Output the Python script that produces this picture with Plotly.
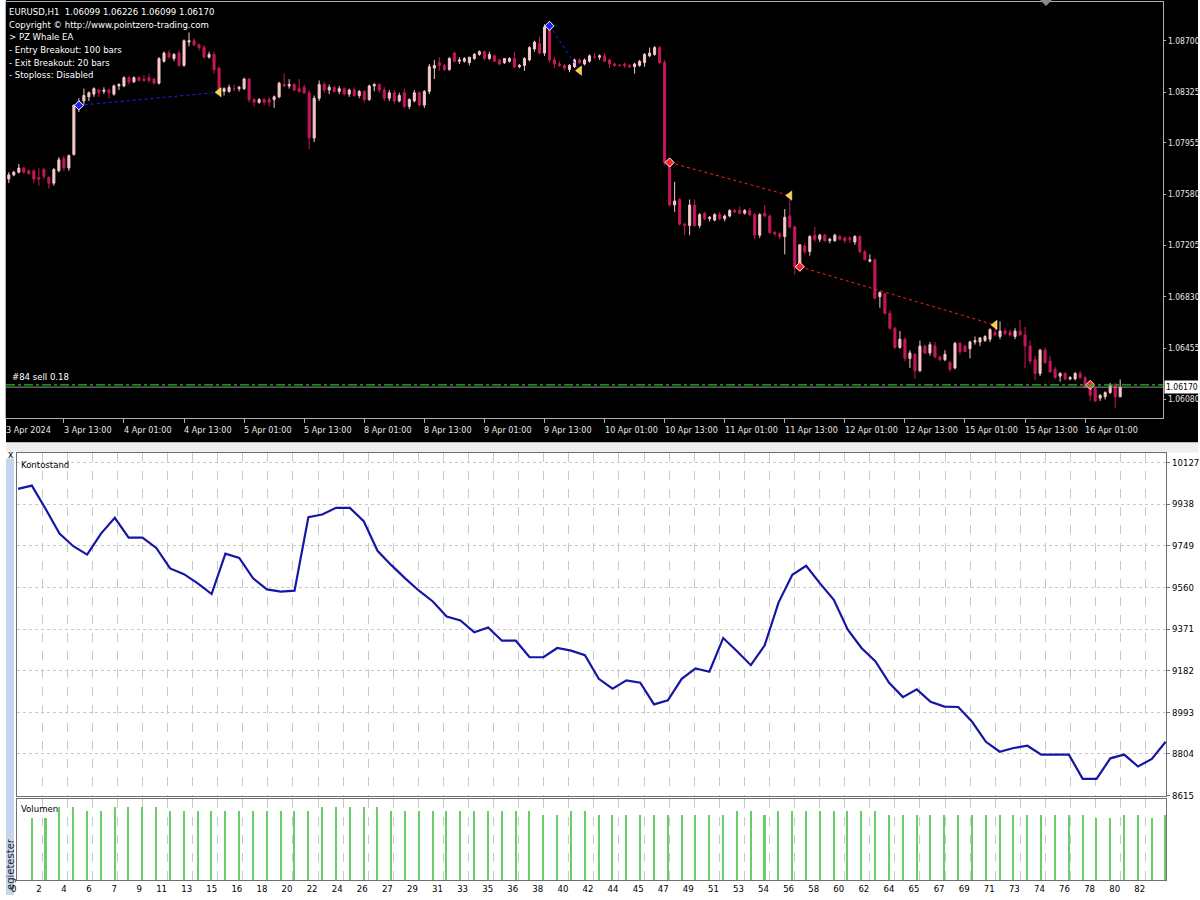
import plotly.graph_objects as go

W, H = 1200, 900
FONT = "DejaVu Sans Condensed, Liberation Sans Narrow, Arial Narrow, sans-serif"

# ---------------- Price data: EURUSD H1, bars 1..223 ----------------
bar_first = 1
opens = [
    1.0769, 1.0772, 1.0774, 1.0777, 1.0775, 1.0775, 1.0770, 1.0776, 1.0770, 1.0766,
    1.0775, 1.0784, 1.0777, 1.0787, 1.0821, 1.0826, 1.0829, 1.0831, 1.0834, 1.0833,
    1.0834, 1.0831, 1.0837, 1.0837, 1.0843, 1.0840, 1.0843, 1.0842, 1.0843, 1.0842,
    1.0839, 1.0855, 1.0861, 1.0857, 1.0861, 1.0852, 1.0869, 1.0870, 1.0867, 1.0865,
    1.0858, 1.0860, 1.0850, 1.0833, 1.0833, 1.0835, 1.0835, 1.0835, 1.0842, 1.0827,
    1.0825, 1.0827, 1.0827, 1.0827, 1.0829, 1.0838, 1.0837, 1.0838, 1.0835, 1.0836,
    1.0832, 1.0799, 1.0828, 1.0838, 1.0834, 1.0836, 1.0833, 1.0835, 1.0831, 1.0834,
    1.0830, 1.0833, 1.0827, 1.0837, 1.0838, 1.0834, 1.0828, 1.0832, 1.0826, 1.0832,
    1.0822, 1.0826, 1.0832, 1.0823, 1.0833, 1.0850, 1.0854, 1.0852, 1.0849, 1.0861,
    1.0855, 1.0855, 1.0854, 1.0857, 1.0860, 1.0862, 1.0857, 1.0859, 1.0856, 1.0854,
    1.0855, 1.0857, 1.0851, 1.0852, 1.0856, 1.0864, 1.0868, 1.0861, 1.0879, 1.0856,
    1.0853, 1.0852, 1.0849, 1.0851, 1.0856, 1.0853, 1.0855, 1.0858, 1.0858, 1.0859,
    1.0856, 1.0853, 1.0852, 1.0853, 1.0852, 1.0851, 1.0852, 1.0854, 1.0859, 1.0860,
    1.0865, 1.0854, 1.0780, 1.0750, 1.0754, 1.0736, 1.0735, 1.0750, 1.0735, 1.0744,
    1.0740, 1.0739, 1.0743, 1.0740, 1.0742, 1.0746, 1.0746, 1.0744, 1.0746, 1.0743,
    1.0728, 1.0744, 1.0742, 1.0730, 1.0729, 1.0727, 1.0742, 1.0734, 1.0705, 1.0720,
    1.0716, 1.0728, 1.0725, 1.0728, 1.0724, 1.0724, 1.0727, 1.0726, 1.0726, 1.0723,
    1.0727, 1.0716, 1.0709, 1.0710, 1.0683, 1.0685, 1.0671, 1.0660, 1.0646, 1.0652,
    1.0638, 1.0641, 1.0629, 1.0647, 1.0642, 1.0647, 1.0639, 1.0637, 1.0635, 1.0631,
    1.0649, 1.0647, 1.0645, 1.0650, 1.0650, 1.0651, 1.0652, 1.0657, 1.0654, 1.0658,
    1.0657, 1.0654, 1.0658, 1.0655, 1.0647, 1.0637, 1.0627, 1.0644, 1.0636, 1.0630,
    1.0625, 1.0627, 1.0623, 1.0623, 1.0627, 1.0624, 1.0618, 1.0616, 1.0609, 1.0610,
    1.0613, 1.0619, 1.06099,
]
highs = [
    1.0774, 1.0775, 1.0780, 1.0778, 1.0776, 1.0776, 1.0777, 1.0777, 1.0771, 1.0777,
    1.0785, 1.0786, 1.0787, 1.0823, 1.0828, 1.0835, 1.0833, 1.0836, 1.0835, 1.0836,
    1.0835, 1.0838, 1.0839, 1.0844, 1.0844, 1.0844, 1.0844, 1.0845, 1.0846, 1.0843,
    1.0858, 1.0862, 1.0863, 1.0861, 1.0863, 1.0871, 1.0876, 1.0872, 1.0868, 1.0867,
    1.0862, 1.0862, 1.0851, 1.0836, 1.0838, 1.0838, 1.0837, 1.0843, 1.0843, 1.0828,
    1.0828, 1.0828, 1.0829, 1.0830, 1.0840, 1.0846, 1.0842, 1.0839, 1.0842, 1.0838,
    1.0834, 1.0830, 1.0841, 1.0840, 1.0838, 1.0837, 1.0837, 1.0836, 1.0835, 1.0836,
    1.0834, 1.0834, 1.0838, 1.0839, 1.0839, 1.0836, 1.0834, 1.0834, 1.0832, 1.0835,
    1.0828, 1.0834, 1.0833, 1.0834, 1.0853, 1.0856, 1.0858, 1.0853, 1.0858, 1.0862,
    1.0858, 1.0858, 1.0858, 1.0861, 1.0863, 1.0863, 1.0862, 1.0860, 1.0857, 1.0857,
    1.0858, 1.0862, 1.0853, 1.0858, 1.0866, 1.0870, 1.0873, 1.0882, 1.0884, 1.0858,
    1.0855, 1.0853, 1.0853, 1.0857, 1.0857, 1.0857, 1.0860, 1.0861, 1.0860, 1.0861,
    1.0857, 1.0854, 1.0853, 1.0854, 1.0853, 1.0854, 1.0856, 1.0861, 1.0865, 1.0866,
    1.0866, 1.0856, 1.0781, 1.0767, 1.0755, 1.0737, 1.0754, 1.0754, 1.0744, 1.0745,
    1.0742, 1.0744, 1.0745, 1.0743, 1.0747, 1.0747, 1.0749, 1.0747, 1.0748, 1.0744,
    1.0744, 1.0750, 1.0743, 1.0731, 1.0730, 1.0747, 1.0754, 1.0735, 1.0721, 1.0722,
    1.0728, 1.0734, 1.0729, 1.0729, 1.0726, 1.0729, 1.0728, 1.0727, 1.0727, 1.0728,
    1.0728, 1.0717, 1.0714, 1.0711, 1.0687, 1.0686, 1.0673, 1.0661, 1.0658, 1.0653,
    1.0644, 1.0642, 1.0651, 1.0648, 1.0650, 1.0650, 1.0640, 1.0644, 1.0636, 1.0650,
    1.0650, 1.0648, 1.0651, 1.0654, 1.0653, 1.0655, 1.0660, 1.0660, 1.0665, 1.0660,
    1.0659, 1.0660, 1.0666, 1.0661, 1.0651, 1.0640, 1.0645, 1.0646, 1.0640, 1.0632,
    1.0628, 1.0628, 1.0625, 1.0628, 1.0629, 1.0625, 1.0618, 1.0617, 1.0612, 1.0614,
    1.0620, 1.0620, 1.06226,
]
lows = [
    1.0766, 1.0771, 1.0773, 1.0773, 1.0772, 1.0766, 1.0764, 1.0769, 1.0762, 1.0764,
    1.0774, 1.0775, 1.0775, 1.0786, 1.0818, 1.0823, 1.0826, 1.0829, 1.0829, 1.0831,
    1.0828, 1.0830, 1.0834, 1.0836, 1.0838, 1.0839, 1.0840, 1.0840, 1.0839, 1.0838,
    1.0838, 1.0854, 1.0857, 1.0855, 1.0851, 1.0851, 1.0866, 1.0866, 1.0863, 1.0857,
    1.0857, 1.0846, 1.0831, 1.0830, 1.0832, 1.0833, 1.0833, 1.0834, 1.0825, 1.0822,
    1.0824, 1.0823, 1.0822, 1.0821, 1.0828, 1.0836, 1.0835, 1.0833, 1.0832, 1.0831,
    1.0791, 1.0796, 1.0826, 1.0832, 1.0831, 1.0832, 1.0831, 1.0830, 1.0829, 1.0829,
    1.0828, 1.0825, 1.0826, 1.0833, 1.0832, 1.0826, 1.0826, 1.0824, 1.0825, 1.0821,
    1.0820, 1.0825, 1.0822, 1.0821, 1.0831, 1.0842, 1.0848, 1.0848, 1.0848, 1.0854,
    1.0853, 1.0854, 1.0852, 1.0856, 1.0859, 1.0856, 1.0856, 1.0855, 1.0852, 1.0853,
    1.0854, 1.0850, 1.0850, 1.0848, 1.0855, 1.0862, 1.0860, 1.0859, 1.0854, 1.0850,
    1.0851, 1.0848, 1.0847, 1.0850, 1.0853, 1.0852, 1.0854, 1.0857, 1.0856, 1.0855,
    1.0850, 1.0851, 1.0851, 1.0850, 1.0850, 1.0846, 1.0851, 1.0851, 1.0858, 1.0859,
    1.0853, 1.0779, 1.0749, 1.0745, 1.0735, 1.0728, 1.0728, 1.0734, 1.0733, 1.0739,
    1.0738, 1.0738, 1.0739, 1.0738, 1.0741, 1.0744, 1.0743, 1.0743, 1.0742, 1.0725,
    1.0726, 1.0741, 1.0729, 1.0727, 1.0725, 1.0714, 1.0733, 1.0699, 1.0703, 1.0714,
    1.0713, 1.0723, 1.0723, 1.0723, 1.0722, 1.0723, 1.0724, 1.0722, 1.0722, 1.0721,
    1.0715, 1.0710, 1.0708, 1.0681, 1.0675, 1.0670, 1.0659, 1.0645, 1.0645, 1.0636,
    1.0631, 1.0623, 1.0628, 1.0641, 1.0640, 1.0638, 1.0636, 1.0636, 1.0628, 1.0630,
    1.0641, 1.0643, 1.0638, 1.0648, 1.0647, 1.0650, 1.0650, 1.0654, 1.0652, 1.0655,
    1.0654, 1.0652, 1.0655, 1.0631, 1.0634, 1.0622, 1.0625, 1.0634, 1.0628, 1.0623,
    1.0621, 1.0622, 1.0622, 1.0622, 1.0623, 1.0616, 1.0607, 1.0606, 1.0607, 1.0608,
    1.0612, 1.0602, 1.06099,
]
closes = [
    1.0772, 1.0774, 1.0777, 1.0774, 1.0773, 1.0769, 1.0769, 1.0771, 1.0766, 1.0776,
    1.0783, 1.0777, 1.0786, 1.0823, 1.0825, 1.0830, 1.0832, 1.0835, 1.0832, 1.0834,
    1.0832, 1.0837, 1.0838, 1.0843, 1.0840, 1.0843, 1.0841, 1.0841, 1.0841, 1.0839,
    1.0857, 1.0861, 1.0858, 1.0860, 1.0852, 1.0870, 1.0870, 1.0867, 1.0865, 1.0858,
    1.0860, 1.0849, 1.0833, 1.0835, 1.0836, 1.0835, 1.0836, 1.0842, 1.0827, 1.0825,
    1.0827, 1.0825, 1.0825, 1.0829, 1.0839, 1.0837, 1.0838, 1.0834, 1.0833, 1.0832,
    1.0799, 1.0828, 1.0838, 1.0834, 1.0836, 1.0833, 1.0835, 1.0831, 1.0834, 1.0830,
    1.0833, 1.0827, 1.0837, 1.0838, 1.0834, 1.0828, 1.0832, 1.0826, 1.0830, 1.0822,
    1.0827, 1.0832, 1.0823, 1.0833, 1.0851, 1.0852, 1.0852, 1.0849, 1.0857, 1.0855,
    1.0856, 1.0857, 1.0858, 1.0860, 1.0862, 1.0857, 1.0860, 1.0855, 1.0853, 1.0857,
    1.0857, 1.0851, 1.0852, 1.0857, 1.0865, 1.0869, 1.0861, 1.0880, 1.0856, 1.0853,
    1.0852, 1.0850, 1.0852, 1.0856, 1.0854, 1.0856, 1.0859, 1.0858, 1.0859, 1.0855,
    1.0853, 1.0852, 1.0852, 1.0852, 1.0851, 1.0853, 1.0855, 1.0860, 1.0861, 1.0865,
    1.0854, 1.0781, 1.0750, 1.0753, 1.0736, 1.0735, 1.0750, 1.0735, 1.0743, 1.0740,
    1.0741, 1.0743, 1.0740, 1.0742, 1.0746, 1.0745, 1.0744, 1.0746, 1.0743, 1.0728,
    1.0743, 1.0742, 1.0730, 1.0729, 1.0727, 1.0741, 1.0734, 1.0705, 1.0721, 1.0716,
    1.0727, 1.0725, 1.0728, 1.0724, 1.0725, 1.0728, 1.0725, 1.0724, 1.0725, 1.0727,
    1.0716, 1.0710, 1.0710, 1.0682, 1.0686, 1.0671, 1.0660, 1.0646, 1.0652, 1.0638,
    1.0642, 1.0629, 1.0647, 1.0642, 1.0648, 1.0639, 1.0637, 1.0641, 1.0630, 1.0649,
    1.0643, 1.0643, 1.0650, 1.0651, 1.0653, 1.0654, 1.0659, 1.0655, 1.0658, 1.0656,
    1.0655, 1.0658, 1.0655, 1.0647, 1.0636, 1.0627, 1.0644, 1.0635, 1.0628, 1.0624,
    1.0627, 1.0623, 1.0624, 1.0627, 1.0624, 1.0617, 1.0611, 1.0607, 1.0611, 1.0613,
    1.0618, 1.0610, 1.06170,
]

time_labels = [
    "3 Apr 2024", "3 Apr 13:00", "4 Apr 01:00", "4 Apr 13:00", "5 Apr 01:00",
    "5 Apr 13:00", "8 Apr 01:00", "8 Apr 13:00", "9 Apr 01:00", "9 Apr 13:00",
    "10 Apr 01:00", "10 Apr 13:00", "11 Apr 01:00", "11 Apr 13:00", "12 Apr 01:00",
    "12 Apr 13:00", "15 Apr 01:00", "15 Apr 13:00", "16 Apr 01:00",
]
bars_per_label = 12

price_ticks = [1.08700, 1.08325, 1.07955, 1.07580, 1.07205, 1.06830, 1.06455, 1.06080]
price_range = [1.05947, 1.08983]
last_price = 1.06170

# trades (entry / exit bar index and price)
trade_side = ["buy", "buy", "sell", "sell", "sell"]
entry_bar = [15, 109, 133, 159, 217]
entry_price = [1.08228, 1.08809, 1.07811, 1.07049, 1.06186]
exit_bar = [43, 115, 157, 198]
exit_price = [1.08324, 1.08482, 1.07569, 1.06624]
open_order_text = "#84 sell 0.18"

header_lines = [
    "EURUSD,H1  1.06099 1.06226 1.06099 1.06170",
    "Copyright © http://www.pointzero-trading.com",
    "> PZ Whale EA",
    "- Entry Breakout: 100 bars",
    "- Exit Breakout: 20 bars",
    "- Stoploss: Disabled",
]

# ---------------- Strategy tester: balance & volume ----------------
equity = [
    10007, 10022, 9916, 9804, 9747, 9709, 9804, 9876, 9786, 9786,
    9739, 9646, 9620, 9578, 9530, 9713, 9694, 9601, 9551, 9541,
    9545, 9879, 9891, 9921, 9921, 9861, 9726, 9661, 9601, 9545,
    9496, 9428, 9410, 9356, 9378, 9318, 9318, 9243, 9243, 9285,
    9273, 9252, 9145, 9100, 9138, 9127, 9029, 9047, 9145, 9192,
    9177, 9330, 9270, 9207, 9297, 9491, 9617, 9658, 9578, 9504,
    9369, 9285, 9225, 9127, 9062, 9097, 9041, 9019, 9017, 8950,
    8859, 8814, 8831, 8841, 8801, 8801, 8801, 8691, 8691, 8784,
    8801, 8747, 8781, 8859,
]
volumes = [
    0.16, 0.16, 0.19, 0.19, 0.18, 0.18, 0.19, 0.19, 0.19, 0.19,
    0.18, 0.18, 0.18, 0.18, 0.18, 0.18, 0.18, 0.18, 0.18, 0.18,
    0.18, 0.19, 0.19, 0.19, 0.19, 0.19, 0.18, 0.18, 0.18, 0.18,
    0.18, 0.18, 0.18, 0.18, 0.18, 0.18, 0.18, 0.17, 0.17, 0.18,
    0.18, 0.17, 0.17, 0.17, 0.17, 0.17, 0.17, 0.17, 0.17, 0.17,
    0.17, 0.18, 0.18, 0.17, 0.18, 0.18, 0.18, 0.18, 0.18, 0.18,
    0.18, 0.18, 0.17, 0.17, 0.17, 0.17, 0.17, 0.17, 0.17, 0.17,
    0.17, 0.17, 0.17, 0.17, 0.17, 0.17, 0.17, 0.16, 0.16, 0.17,
    0.17, 0.16, 0.17,
]
equity_ticks = [10127, 9938, 9749, 9560, 9371, 9182, 8993, 8804, 8615]
equity_range = [8615, 10168]
volume_range = [0, 0.21]
trade_tick_labels = [
    "0", "2", "4", "6", "7", "9", "11", "13", "15", "16", "18", "20", "22", "24",
    "26", "27", "29", "31", "33", "35", "36", "38", "40", "42", "44", "45", "47",
    "49", "51", "53", "54", "56", "58", "60", "62", "64", "65", "67", "69", "71",
    "73", "74", "76", "78", "80", "82",
]

# ---------------- helpers (layout in pixels -> paper) ----------------
def px(x):
    return x / W

def py(y):
    return 1 - y / H

BULL = "#F7C8C8"
BEAR = "#C8175C"

fig = go.Figure()

# candles
fig.add_trace(go.Candlestick(
    x=list(range(bar_first, bar_first + len(closes))),
    open=opens, high=highs, low=lows, close=closes,
    increasing=dict(line=dict(color=BULL, width=1), fillcolor=BULL),
    decreasing=dict(line=dict(color=BEAR, width=1), fillcolor=BEAR),
    whiskerwidth=0, hoverinfo="skip", xaxis="x", yaxis="y",
))

# trade connection lines and arrows
for n in range(len(exit_bar)):
    col = "#2020FF" if trade_side[n] == "buy" else "#FF2020"
    fig.add_trace(go.Scatter(
        x=[entry_bar[n], exit_bar[n]], y=[entry_price[n], exit_price[n]],
        mode="lines", line=dict(color=col, width=1, dash="dot"),
        hoverinfo="skip", xaxis="x", yaxis="y"))
fig.add_trace(go.Scatter(
    x=exit_bar, y=exit_price, mode="markers",
    marker=dict(symbol="triangle-left", size=8, color="#FFD21E",
                line=dict(color="#FFFFFF", width=0.5)),
    hoverinfo="skip", xaxis="x", yaxis="y"))
fig.add_trace(go.Scatter(
    x=entry_bar, y=entry_price, mode="markers",
    marker=dict(symbol="diamond", size=7,
                color=["#2020FF" if s == "buy" else "#FF2020" for s in trade_side],
                line=dict(color="#FFFFFF", width=1)),
    hoverinfo="skip", xaxis="x", yaxis="y"))

# balance line
fig.add_trace(go.Scatter(
    x=list(range(len(equity))), y=equity, mode="lines",
    line=dict(color="#1616A6", width=2.2), hoverinfo="skip",
    xaxis="x2", yaxis="y2"))

# volume bars
fig.add_trace(go.Bar(
    x=list(range(1, len(volumes) + 1)), y=volumes, width=0.11,
    marker=dict(color="#6ACD6A", line=dict(width=0)), hoverinfo="skip",
    xaxis="x3", yaxis="y3"))

# ---------------- shapes ----------------
shapes = [
    dict(type="rect", xref="paper", yref="paper", x0=0, x1=1, y0=py(445), y1=1,
         fillcolor="#000000", line=dict(width=0), layer="below"),
    dict(type="rect", xref="paper", yref="paper", x0=0, x1=1, y0=py(455), y1=py(445),
         fillcolor="#EEEEEE", line=dict(width=0), layer="below"),
    dict(type="rect", xref="paper", yref="paper", x0=0, x1=px(8), y0=0, y1=py(461),
         fillcolor="#C3D6EC", line=dict(width=0), layer="below"),
    dict(type="path", xref="paper", yref="paper",
         path=f"M {px(1041)},{py(0)} L {px(1053)},{py(0)} L {px(1047)},{py(6)} Z",
         fillcolor="#8A8A8A", line=dict(width=0), layer="above"),
    dict(type="line", xref="paper", yref="y", x0=0, x1=px(1165),
         y0=last_price, y1=last_price, line=dict(color="#9A9A9A", width=1)),
    dict(type="line", xref="paper", yref="y", x0=0, x1=px(1165),
         y0=entry_price[4], y1=entry_price[4],
         line=dict(color="#20C020", width=1.2, dash="dashdot")),
]

# ---------------- annotations ----------------
ann = []
for j, line in enumerate(header_lines):
    ann.append(dict(text=line, xref="paper", yref="paper", x=px(1), y=py(12 + 12.6 * j),
                    xanchor="left", yanchor="middle", showarrow=False,
                    font=dict(family=FONT, size=9.5, color="#FFFFFF")))
for j, lab in enumerate(time_labels):
    if j == 0:
        ann.append(dict(text=lab, xref="paper", yref="paper", x=0, y=py(432),
                        xanchor="left", yanchor="middle", showarrow=False, xshift=-2,
                        font=dict(family=FONT, size=9, color="#E8E8E8")))
    else:
        ann.append(dict(text=lab, xref="x", yref="paper", x=j * bars_per_label, y=py(432),
                        xanchor="left", yanchor="middle", showarrow=False, xshift=-2,
                        font=dict(family=FONT, size=9, color="#E8E8E8")))
ann.append(dict(text=open_order_text, xref="paper", yref="y", x=px(4), y=entry_price[4],
                xanchor="left", yanchor="bottom", yshift=1, showarrow=False,
                font=dict(family=FONT, size=9.5, color="#FFFFFF")))
ann.append(dict(text=f"{last_price:.5f}", xref="paper", yref="y", x=px(1166), y=last_price,
                xanchor="left", yanchor="middle", showarrow=False, bgcolor="#FFFFFF",
                borderpad=1, font=dict(family=FONT, size=8.5, color="#000000")))
ann.append(dict(text="x", xref="paper", yref="paper", x=px(0), y=py(457), xanchor="left",
                yanchor="middle", showarrow=False,
                font=dict(family=FONT, size=10, color="#000000")))
ann.append(dict(text="Kontostand", xref="paper", yref="paper", x=px(13), y=py(467),
                xanchor="left", yanchor="middle", showarrow=False,
                font=dict(family=FONT, size=9.5, color="#000000")))
ann.append(dict(text="Volumen", xref="paper", yref="paper", x=px(13), y=py(813),
                xanchor="left", yanchor="middle", showarrow=False,
                font=dict(family=FONT, size=9.5, color="#000000")))
ann.append(dict(text="egietester", xref="paper", yref="paper", x=px(4), y=py(897),
                xanchor="center", yanchor="bottom", textangle=-90, showarrow=False,
                font=dict(family="DejaVu Sans", size=10, color="#202020")))

# bottom axis tick positions (trade units)
tick_step = 1.8139
bottom_tickvals = [-0.07 + tick_step * j for j in range(len(trade_tick_labels))]
eq_xrange = [-0.079, 83.04]

axis_line = "#707070"
grid_col = "#C8C8C8"

fig.update_layout(
    width=W, height=H, margin=dict(l=0, r=0, t=0, b=0),
    paper_bgcolor="#FFFFFF", plot_bgcolor="rgba(0,0,0,0)",
    showlegend=False, boxgap=0.42, bargap=0,
    shapes=shapes, annotations=ann,
    xaxis=dict(domain=[0, px(1165)], range=[0.44, 231.6], anchor="y",
               tickvals=[j * bars_per_label for j in range(len(time_labels))],
               showticklabels=False, ticks="outside", ticklen=4, tickcolor="#B0B0B0",
               showgrid=False, zeroline=False, showline=True, linecolor="#B0B0B0",
               mirror=True, rangeslider=dict(visible=False)),
    yaxis=dict(domain=[py(420), py(2)], range=price_range, anchor="x", side="right",
               tickvals=price_ticks, ticktext=[f"{v:.5f}" for v in price_ticks],
               tickfont=dict(family=FONT, size=8.5, color="#E8E8E8"),
               ticks="outside", ticklen=2, tickcolor="#B0B0B0",
               showgrid=False, zeroline=False, showline=True, linecolor="#B0B0B0",
               mirror=True),
    xaxis2=dict(domain=[px(11), px(1168)], range=eq_xrange, anchor="y2",
                tickvals=bottom_tickvals, showticklabels=False, ticks="",
                showgrid=True, gridcolor=grid_col, griddash="dash", gridwidth=1,
                zeroline=False, showline=True, linecolor=axis_line, mirror=True),
    yaxis2=dict(domain=[py(800), py(456)], range=equity_range, anchor="x2", side="right",
                tickvals=equity_ticks, ticktext=[str(v) for v in equity_ticks],
                tickfont=dict(family=FONT, size=9.5, color="#000000"),
                ticks="outside", ticklen=3, tickcolor=axis_line,
                showgrid=True, gridcolor=grid_col, griddash="dot",
                zeroline=False, showline=True, linecolor=axis_line, mirror=True),
    xaxis3=dict(domain=[px(11), px(1168)], range=eq_xrange, anchor="y3",
                tickvals=bottom_tickvals, ticktext=trade_tick_labels,
                ticklabelposition="outside left",
                tickfont=dict(family=FONT, size=9.5, color="#000000"),
                ticks="", showgrid=True, gridcolor=grid_col, griddash="dash",
                zeroline=False, showline=True, linecolor=axis_line, mirror=True),
    yaxis3=dict(domain=[py(885), py(803)], range=volume_range, anchor="x3",
                showticklabels=False, showgrid=False, zeroline=False,
                showline=True, linecolor=axis_line, mirror=True, ticks=""),
)

fig.write_html("out.html", config={"displayModeBar": False},
               post_script="document.body.style.margin='0';document.body.style.overflow='hidden';")
